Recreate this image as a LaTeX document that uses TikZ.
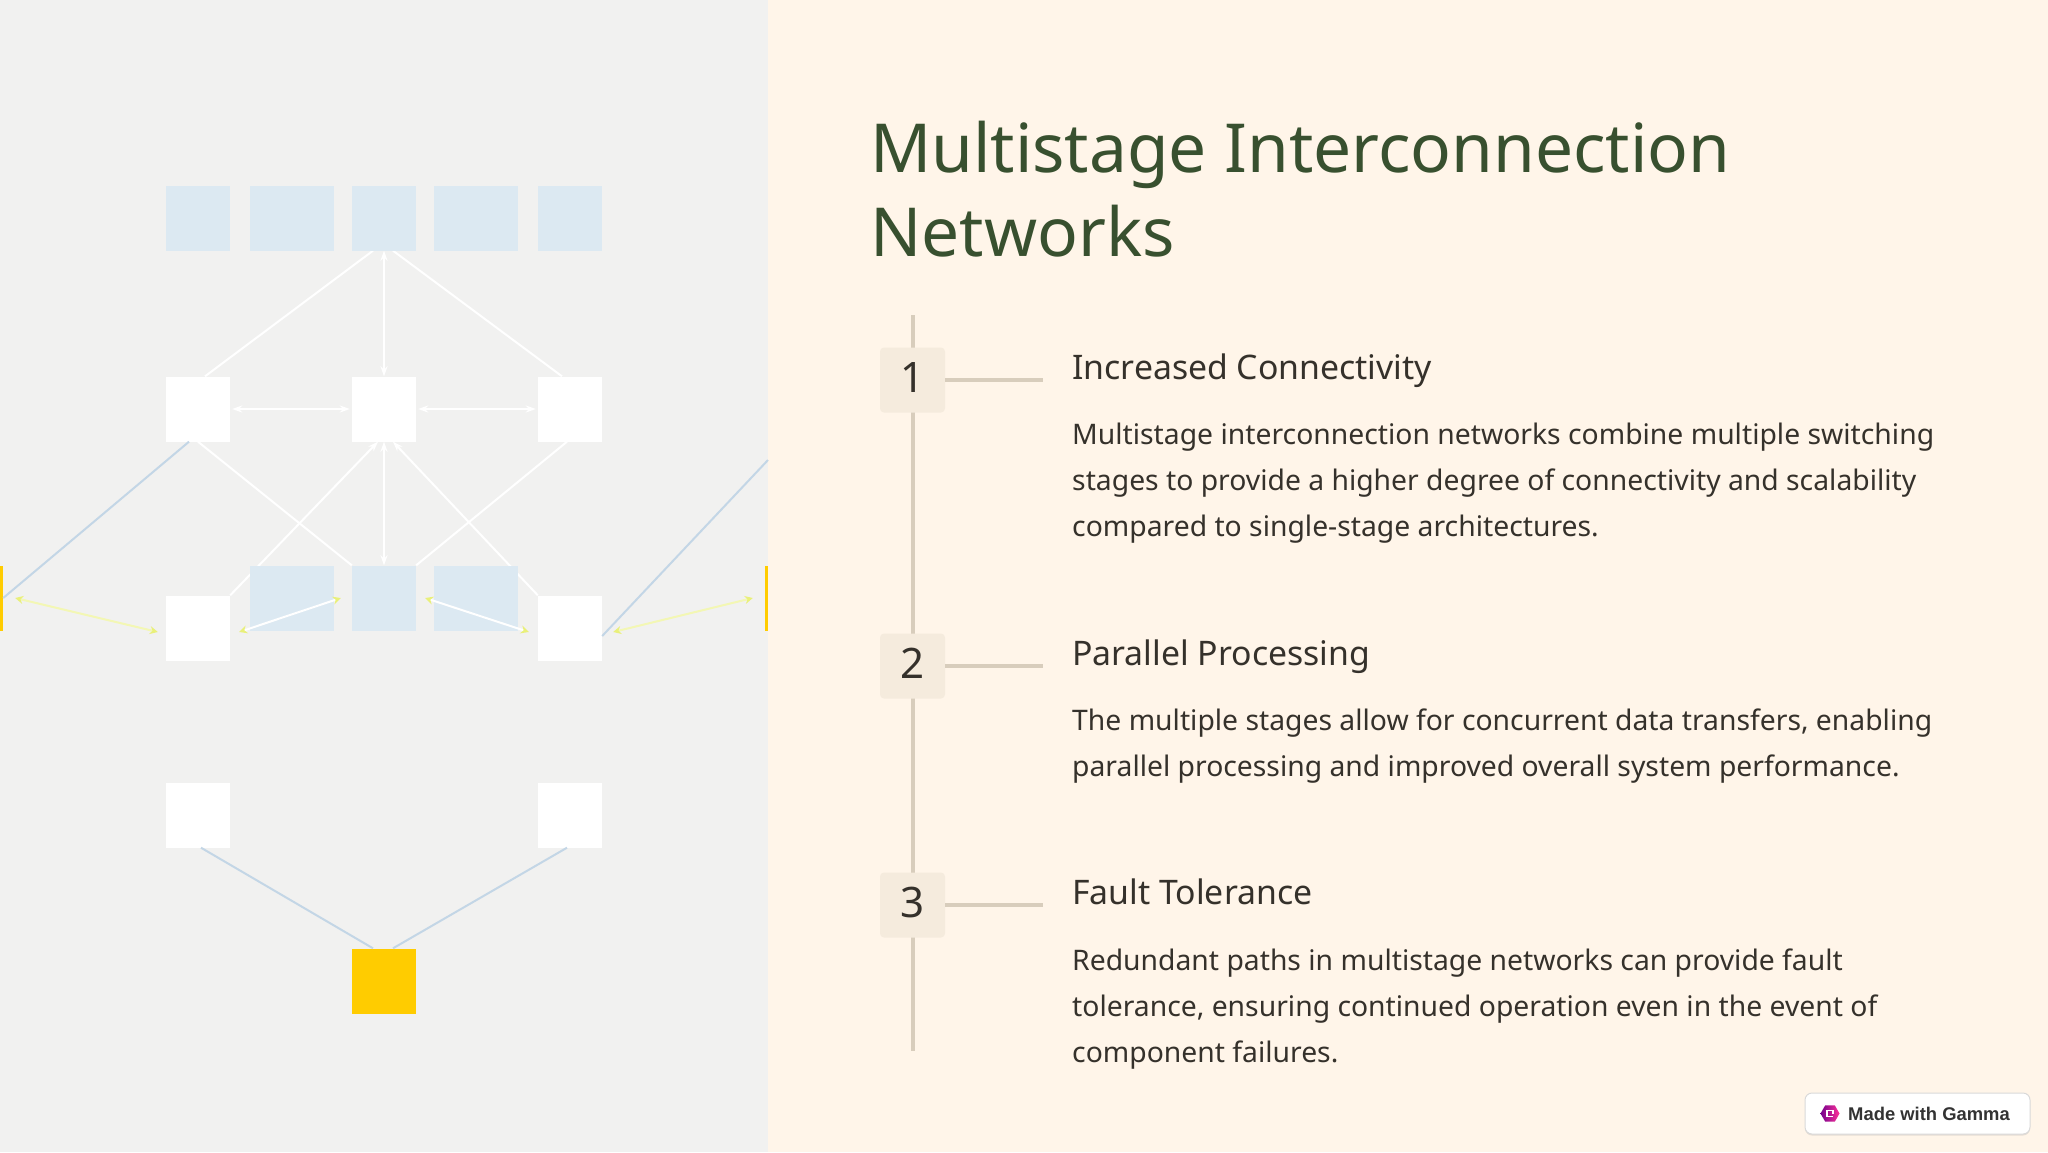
\documentclass[tikz,border=0pt]{standalone}
\usepackage{fontspec}
\setmainfont{Noto Sans}
\newfontfamily\badgefont{Liberation Sans}
\usetikzlibrary{arrows.meta, backgrounds, shapes.geometric, shadows}

\definecolor{panelgrey}{HTML}{F1F1F0}
\definecolor{panelcream}{HTML}{FFF5E9}
\definecolor{boxblue}{HTML}{DCE9F2}
\definecolor{hubyellow}{HTML}{FFCC00}
\definecolor{linkblue}{HTML}{C3D6E6}
\definecolor{linkyellow}{HTML}{F3F7B4}
\definecolor{tipyellow}{HTML}{E9F07A}
\definecolor{titlegreen}{HTML}{38502F}
\definecolor{textdark}{HTML}{35312B}
\definecolor{stepfill}{HTML}{F5EBDD}
\definecolor{stepline}{HTML}{D8CDBC}

\tikzset{
    x=1pt, y=-1pt,
    cell/.style={inner sep=0, minimum width=64pt, minimum height=65pt},
    bluecell/.style={cell, fill=boxblue},
    whitecell/.style={cell, fill=white},
    whitelink/.style={draw=white, line width=2pt},
    whitearrow/.style={whitelink, {Stealth[length=10pt,width=7pt]}-{Stealth[length=10pt,width=7pt]}},
    bluelink/.style={draw=linkblue, line width=2pt},
    yellowtips/.style={{Stealth[length=8pt,width=8pt,color=tipyellow]}-{Stealth[length=8pt,width=8pt,color=tipyellow]}},
    numbox/.style={inner sep=0, minimum size=65pt, fill=stepfill, rounded corners=4pt, text=textdark, text depth=5pt, font=\fontsize{42}{42}\selectfont},
    stepline/.style={draw=stepline, line width=4pt},
    heading/.style={anchor=base west, inner sep=0, text=textdark, font=\fontsize{33.8}{34}\selectfont},
    bodytext/.style={anchor=north west, inner sep=0, align=left, text=textdark, font=\fontsize{28.3}{46}\selectfont},
}

\begin{document}
\begin{tikzpicture}
    \useasboundingbox (0,0) rectangle (2048,1152);

    % top row
    \node[bluecell] (ta) at (198,218) {};
    \node[bluecell, minimum width=84pt] (tb) at (291.5,218) {};
    \node[bluecell] (tc) at (384,218) {};
    \node[bluecell, minimum width=84pt] (td) at (476,218) {};
    \node[bluecell] (te) at (570,218) {};

    % switches
    \node[whitecell] (wa) at (198,409) {};
    \node[whitecell] (wb) at (384,409) {};
    \node[whitecell] (wc) at (570,409) {};
    \node[bluecell, minimum width=84pt] (ma) at (291.5,598) {};
    \node[bluecell] (mb) at (384,598) {};
    \node[bluecell, minimum width=84pt] (mc) at (476,598) {};
    \node[whitecell] (wd) at (198,628) {};
    \node[whitecell] (we) at (570,628) {};
    \node[whitecell] (wf) at (198,815) {};
    \node[whitecell] (wg) at (570,815) {};
    \node[cell, fill=hubyellow] (ya) at (384,981) {};
    \node[cell, fill=hubyellow, minimum width=3pt] (yl) at (1.5,598) {};
    \node[cell, fill=hubyellow, minimum width=3pt] (yr) at (766.5,598) {};
    \coordinate (rc) at (768,460);

    \begin{pgfonlayer}{background}
        \fill[panelcream] (0,0) rectangle (2048,1152);
        \fill[panelgrey] (0,0) rectangle (768,1152);

        \draw[whitelink] ([xshift=7]wa.north) -- ([xshift=-11]tc.south);
        \draw[whitelink] ([xshift=-8]wc.north) -- ([xshift=9]tc.south);
        \draw[whitelink] (wa.south) -- (mb.north west);
        \draw[whitelink, {Stealth[length=10pt,width=7pt]}-] ([xshift=-6]wb.south) -- (wd.north east);
        \draw[whitelink, {Stealth[length=10pt,width=7pt]}-] ([xshift=9]wb.south) -- (we.north west);
        \draw[whitelink] ([xshift=-3]wc.south) -- (mb.north east);
    \end{pgfonlayer}

    \draw[whitearrow] (tc.south) -- (wb.north);
    \draw[whitearrow, shorten <=2pt, shorten >=2pt] (wa.east) -- (wb.west);
    \draw[whitearrow, shorten <=2pt, shorten >=2pt] (wb.east) -- (wc.west);
    \draw[whitearrow] (wb.south) -- (mb.north);

    \draw[bluelink] ([xshift=-9]wa.south) -- (yl.east);
    \draw[bluelink] (rc) -- ([yshift=-8]we.east);
    \draw[bluelink] ([xshift=3]wf.south) -- ([xshift=-11]ya.north);
    \draw[bluelink] ([xshift=-3]wg.south) -- ([xshift=9]ya.north);

    \draw[draw=linkyellow, line width=2pt, yellowtips] ([xshift=12]yl.east) -- ([xshift=-8,yshift=-4]wd.west);
    \draw[draw=linkyellow, line width=2pt, yellowtips] ([xshift=11,yshift=-4]we.east) -- ([xshift=-12]yr.west);
    \draw[whitelink, yellowtips] ([xshift=9,yshift=-4]wd.east) -- ([xshift=-11]mb.west);
    \draw[whitelink, yellowtips] ([xshift=9]mb.east) -- ([xshift=-9,yshift=-4]we.west);

    % right side
    \node[anchor=base west, inner sep=0, text=titlegreen, font=\fontsize{67.6}{84}\selectfont] (title) at (870,172) {Multistage Interconnection};
    \node[anchor=base west, inner sep=0, text=titlegreen, font=\fontsize{67.6}{84}\selectfont] (titleb) at (870,256) {Networks};

    \coordinate (ltop) at (912.5,315);
    \coordinate (lend) at (912.5,1051);
    \draw[stepline] (ltop) -- (lend);

    \node[numbox] (na) at (912.5,380) {1};
    \node[numbox] (nb) at (912.5,666) {2};
    \node[numbox] (nc) at (912.5,905) {3};

    \coordinate (ea) at (1043,380);
    \coordinate (eb) at (1043,666);
    \coordinate (ec) at (1043,905);
    \draw[stepline] (na.east) -- (ea);
    \draw[stepline] (nb.east) -- (eb);
    \draw[stepline] (nc.east) -- (ec);

    \node[heading] (ha) at (1072,379) {Increased Connectivity};
    \node[bodytext] (ba) at (1072,423) {Multistage interconnection networks combine multiple switching\\stages to provide a higher degree of connectivity and scalability\\compared to single-stage architectures.};

    \node[heading] (hb) at (1072,665) {Parallel Processing};
    \node[bodytext] (bb) at (1072,709) {The multiple stages allow for concurrent data transfers, enabling\\parallel processing and improved overall system performance.};

    \node[heading] (hc) at (1072,904) {Fault Tolerance};
    \node[bodytext] (bc) at (1072,949) {Redundant paths in multistage networks can provide fault\\tolerance, ensuring continued operation even in the event of\\component failures.};

    % badge
    \node[inner sep=0, minimum width=225pt, minimum height=41pt, fill=white, draw=black!15, line width=1pt, rounded corners=7pt, drop shadow={opacity=0.2, shadow xshift=0pt, shadow yshift=-1.5pt}] (badge) at (1917.5,1113.5) {};
    \node[regular polygon, regular polygon sides=6, inner sep=0, minimum size=19pt, left color=violet!90!blue, right color=orange!40!magenta] (logo) at (1830,1113.5) {};
    \draw[white, line width=1.5pt] ([xshift=3,yshift=-3]logo.center) -- ([xshift=-3,yshift=-3]logo.center) -- ([xshift=-3,yshift=3]logo.center) -- ([xshift=3,yshift=3]logo.center) -- ([xshift=3]logo.center);
    \node[anchor=base west, inner sep=0, text=black!80, font=\badgefont\bfseries\fontsize{18.4}{20}\selectfont] (madewith) at (1848,1120) {Made with Gamma};
\end{tikzpicture}
\end{document}
